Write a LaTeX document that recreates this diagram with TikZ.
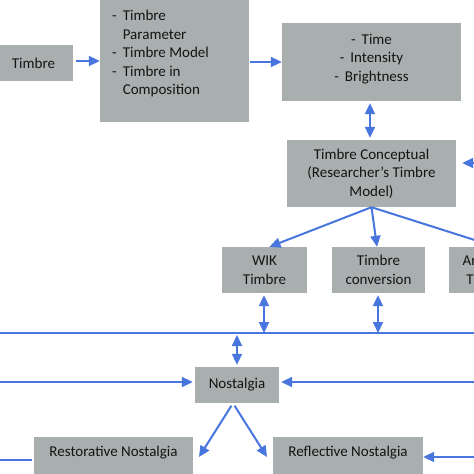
\documentclass[tikz,border=0pt]{standalone}
\usepackage{fontspec}
\setmainfont{Carlito}
\usetikzlibrary{arrows.meta}
\definecolor{boxgray}{RGB}{169,175,175}
\definecolor{arrblue}{RGB}{72,118,222}
\definecolor{txt}{RGB}{20,20,20}
\begin{document}
\begin{tikzpicture}[x=1pt,y=-1pt,
  every node/.style={font=\fontsize{15}{18.5}\selectfont, text=txt},
  gbox/.style={fill=boxgray, draw=none, inner sep=0pt, align=center},
  arr/.style={draw=arrblue, line width=2pt, -{Triangle[length=11pt,width=10pt]}},
  darr/.style={draw=arrblue, line width=2pt, {Triangle[length=11pt,width=10pt]}-{Triangle[length=11pt,width=10pt]}},
  pline/.style={draw=arrblue, line width=2pt}]
\useasboundingbox (0,0) rectangle (474,474);
\clip (0,0) rectangle (474,474);
\fill[white] (0,0) rectangle (474,474);
% boxes
\node[gbox, minimum width=79pt, minimum height=36pt] (timbre) at (33.5,63) {Timbre};
\node[gbox, minimum width=149pt, minimum height=138pt] (list) at (174.5,53) {};
\node[anchor=west, inner sep=0pt, align=left] (listtext) at (112,54)
  {\begin{tabular}{@{}l@{\hspace{6pt}}l@{}}-&Timbre\\ &Parameter\\ -&Timbre Model\\ -&Timbre in\\ &Composition\end{tabular}};
\node[gbox, minimum width=179pt, minimum height=78pt] (time) at (371.5,62) {-\hspace{6pt}Time\\-\hspace{6pt}Intensity\\-\hspace{6pt}Brightness\\[-9.5pt]};
\node[gbox, minimum width=169pt, minimum height=67pt] (concept) at (371.5,173.5) {Timbre Conceptual\\(Researcher’s Timbre\\Model)};
\node[gbox, minimum width=85pt, minimum height=46pt] (wik) at (264.5,270) {WIK\\Timbre};
\node[gbox, minimum width=93pt, minimum height=46pt] (conv) at (378.5,270) {Timbre\\conversion};
\node[gbox, minimum width=78pt, minimum height=46pt] (art) at (488,270) {Artificial\\Timbre};
\node[gbox, minimum width=84pt, minimum height=36pt] (nost) at (237,385) {Nostalgia};
\node[gbox, anchor=north, minimum width=159pt, text height=19pt, text depth=30pt] (rest) at (113.5,437) {Restorative Nostalgia};
\node[gbox, anchor=north, minimum width=150pt, text height=19pt, text depth=30pt] (refl) at (348,437) {Reflective Nostalgia};
% coordinates
\coordinate (busL) at (-5,333);
\coordinate (busR) at (479,333);
\coordinate (cin) at (479,163);
\coordinate (nL) at (-5,382);
\coordinate (nR) at (479,382);
\coordinate (rL) at (-5,460);
\coordinate (fR) at (479,457);
\coordinate (rtip) at (199,457);
\coordinate (ftip) at (267,457);
% connectors
\draw[arr, shorten <=3pt] (timbre.east |- 0,61) -- (list.west |- 0,61);
\draw[arr, shorten <=1pt] (list.east |- time) -- (time.west);
\draw[darr, shorten <=2pt, shorten >=2pt] ([xshift=-1.5pt]time.south) -- ([xshift=-1.5pt]concept.north);
\draw[arr, shorten >=6pt] (cin) -- (concept.east |- cin);
\draw[arr] (concept.south) -- ([xshift=5pt]wik.north);
\draw[arr] (concept.south) -- ([xshift=-1.5pt]conv.north);
\draw[arr] (concept.south) -- ([xshift=8pt]art.north);
\draw[pline] (busL) -- (busR);
\draw[darr, shorten <=2pt] ([xshift=-0.5pt]wik.south) -- ([xshift=-0.5pt]wik.south |- busL);
\draw[darr, shorten <=2pt] ([xshift=-0.5pt]conv.south) -- ([xshift=-0.5pt]conv.south |- busL);
\draw[darr, shorten <=2pt, shorten >=2pt] (nost.north |- busL) -- (nost.north);
\draw[arr, shorten >=2pt] (nL) -- (nost.west |- nL);
\draw[arr, shorten >=2pt] (nR) -- (nost.east |- nR);
\draw[arr, shorten <=3pt] ([xshift=-4pt]nost.south) -- (rtip);
\draw[arr, shorten <=3pt] ([xshift=-4pt]nost.south) -- (ftip);
\draw[pline, shorten >=2pt] (rL) -- (rest.west |- rL);
\draw[arr] (fR) -- (refl.east |- fR);
\end{tikzpicture}
\end{document}
